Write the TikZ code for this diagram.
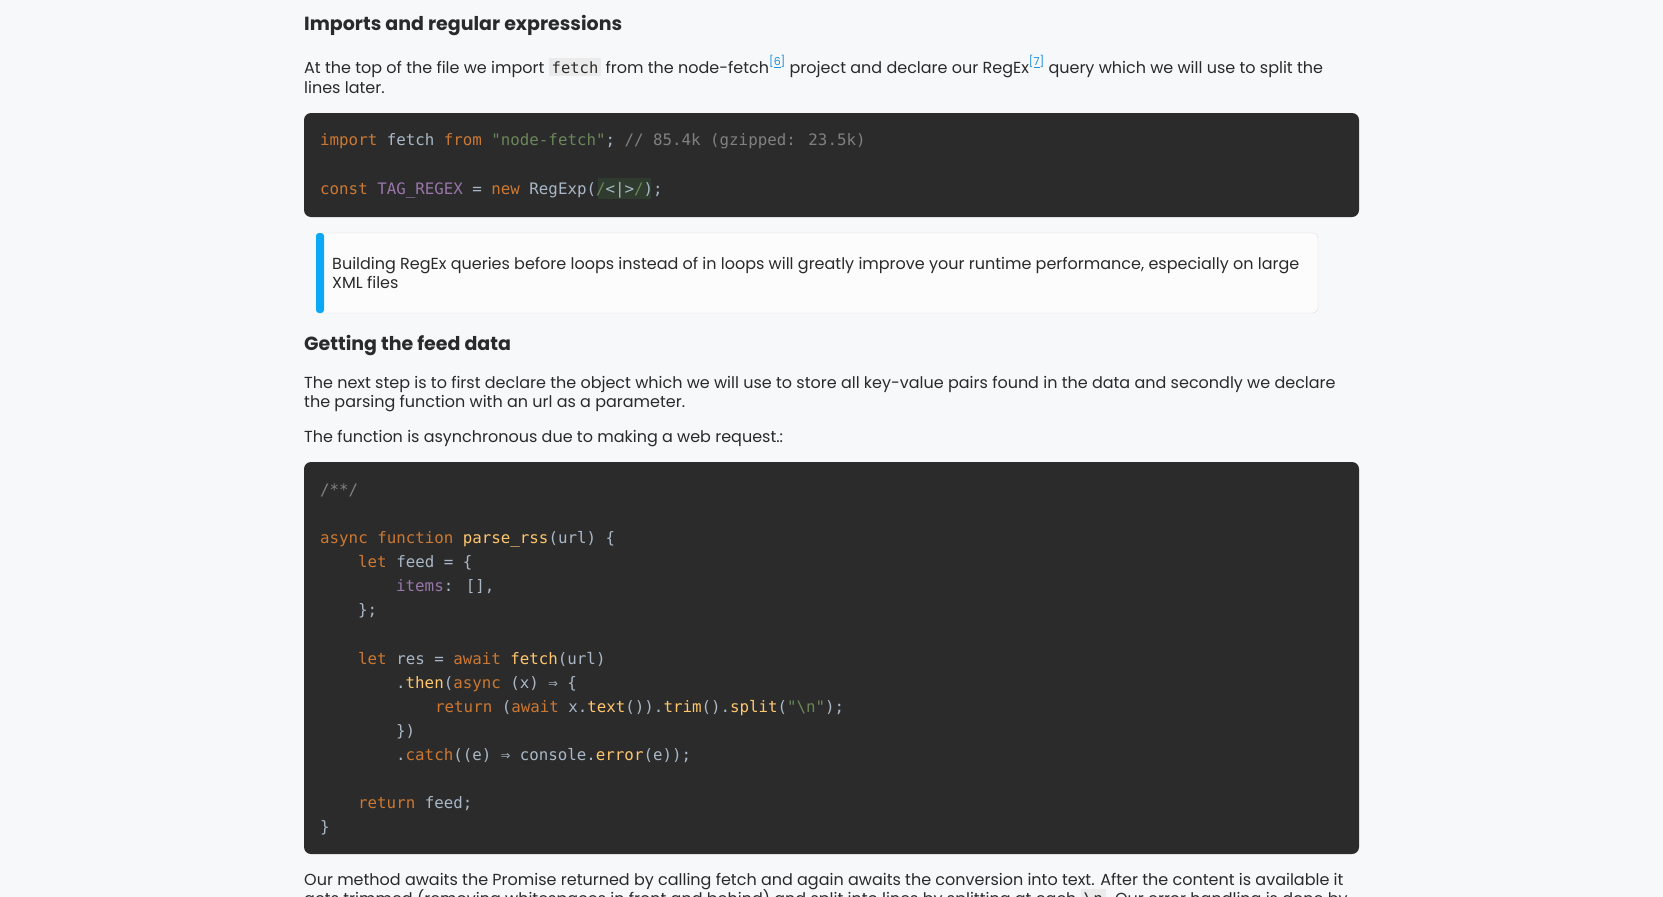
\documentclass[tikz,border=0pt]{standalone}
\usepackage{fontspec}
\setmainfont{Poppins}
\newfontfamily\codefont{DejaVu Sans Mono}
\definecolor{pagebg}{HTML}{F7F8FA}
\definecolor{codebg}{HTML}{2B2B2B}
\definecolor{kw}{HTML}{CC7832}
\definecolor{str}{HTML}{6A8759}
\definecolor{prp}{HTML}{9876AA}
\definecolor{cmt}{HTML}{808080}
\definecolor{txt}{HTML}{A9B7C6}
\definecolor{fn}{HTML}{FFC66D}
\definecolor{rxbg}{HTML}{2E3B2E}
\definecolor{body}{HTML}{2A2A2A}
\definecolor{link}{HTML}{1F8FD8}
\definecolor{bar}{HTML}{0AA8F5}
\definecolor{callborder}{HTML}{E6D8DE}
\newcommand{\K}[1]{\textcolor{kw}{#1}}
\newcommand{\Sg}[1]{\textcolor{str}{#1}}
\newcommand{\Pp}[1]{\textcolor{prp}{#1}}
\newcommand{\Cm}[1]{\textcolor{cmt}{#1}}
\newcommand{\Fn}[1]{\textcolor{fn}{#1}}
\newcommand{\lnk}[1]{\raisebox{0.45em}{\fontsize{11}{12}\selectfont\textcolor{link}{[\underline{#1}]}}}
\tikzset{
  codel/.style={anchor=base west,inner sep=0,text=txt,font=\codefont\fontsize{15.8}{18}\selectfont},
  bodyl/.style={anchor=base west,inner sep=0,text=body,font=\fontsize{16}{19}\selectfont},
  head/.style={anchor=base west,inner sep=0,text=body,font=\bfseries\fontsize{19}{22}\selectfont},
  codebox/.style={fill=codebg,rounded corners=7pt,draw=none}
}
\begin{document}
\begin{tikzpicture}[x=1pt,y=-1pt]
\fill[pagebg] (0,0) rectangle (1663,897);
\useasboundingbox (0,0) rectangle (1663,897);
\node[head] (h1) at (304,30) {Imports and regular expressions};
\node[bodyl] (p1) at (304,73) {At the top of the file we import \colorbox{black!8}{\codefont\fontsize{15.5}{18}\selectfont fetch} from the node-fetch\lnk{6} project and declare our RegEx\lnk{7} query which we will use to split the};
\node[bodyl] (p1b) at (304,93) {lines later.};
\fill[codebox] (304,113) rectangle (1359,217);
\node[codel] (c1) at (320,145) {\K{import} fetch \K{from} \Sg{"node-fetch"}; \Cm{// 85.4k (gzipped: 23.5k)}};
\fill[rxbg] (598,178) rectangle (651,199);
\node[codel] (c2) at (320,194) {\K{const} \Pp{TAG\_REGEX} = \K{new} RegExp(\Sg{/}\textcolor{txt}{<|>}\Sg{/});};
\draw[draw=callborder,fill=white!60!pagebg,rounded corners=5pt] (316,233) rectangle (1318,313);
\fill[bar,rounded corners=3pt] (316,233) rectangle (324,313);
\node[bodyl] (q1) at (332,269) {Building RegEx queries before loops instead of in loops will greatly improve your runtime performance, especially on large};
\node[bodyl] (q2) at (332,288) {XML files};
\node[head] (h2) at (304,350) {Getting the feed data};
\node[bodyl] (p2) at (304,388) {The next step is to first declare the object which we will use to store all key-value pairs found in the data and secondly we declare};
\node[bodyl] (p2b) at (304,407) {the parsing function with an url as a parameter.};
\node[bodyl] (p3) at (304,442) {The function is asynchronous due to making a web request.:};
\fill[codebox] (304,462) rectangle (1359,854);
\node[codel] (d1) at (320,495) {\Cm{/**/}};
\node[codel] (d2) at (320,543) {\K{async function} \Fn{parse\_rss}(url) \{};
\node[codel] (d3) at (358,567) {\K{let} feed = \{};
\node[codel] (d4) at (396,591) {\Pp{items}: [],};
\node[codel] (d5) at (358,615) {\};};
\node[codel] (d6) at (358,664) {\K{let} res = \K{await} \Fn{fetch}(url)};
\node[codel] (d7) at (396,688) {.\Fn{then}(\K{async} (x) ⇒ \{};
\node[codel] (d8) at (435,712) {\K{return} (\K{await} x.\Fn{text}()).\Fn{trim}().\Fn{split}(\Sg{"\textbackslash n"});};
\node[codel] (d9) at (396,736) {\})};
\node[codel] (d10) at (396,760) {.\K{catch}((e) ⇒ console.\Fn{error}(e));};
\node[codel] (d11) at (358,808) {\K{return} feed;};
\node[codel] (d12) at (320,832) {\}};
\node[bodyl] (p4) at (304,885) {Our method awaits the Promise returned by calling fetch and again awaits the conversion into text. After the content is available it};
\node[bodyl] (p4b) at (304,904) {gets trimmed (removing whitespaces in front and behind) and split into lines by splitting at each \colorbox{black!8}{\codefont\textbackslash n}. Our error handling is done by};
\end{tikzpicture}
\end{document}
